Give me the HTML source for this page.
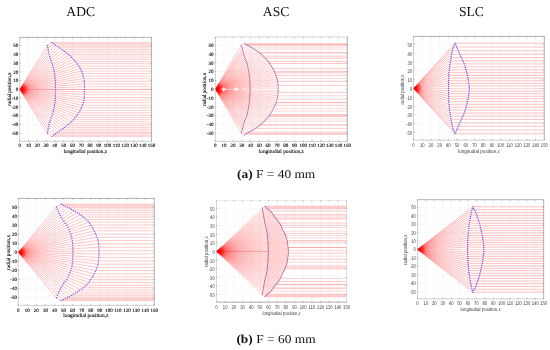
<!DOCTYPE html>
<html><head><meta charset="utf-8"><title>Figure</title><style>html,body{margin:0;padding:0;background:#fff;}svg{display:block;} text{text-rendering:geometricPrecision;}</style></head><body>
<svg width="550" height="350" viewBox="0 0 550 350">
<rect width="550" height="350" fill="#fff"/>
<text x="80.7" y="16" text-anchor="middle" font-family='"Liberation Serif", serif' font-size="13.6" fill="#111">ADC</text>
<text x="276.1" y="16" text-anchor="middle" font-family='"Liberation Serif", serif' font-size="13.6" fill="#111">ASC</text>
<text x="471.4" y="16" text-anchor="middle" font-family='"Liberation Serif", serif' font-size="13.6" fill="#111">SLC</text>
<path d="M28.49 37.4V141.3M37.28 37.4V141.3M46.07 37.4V141.3M54.86 37.4V141.3M63.65 37.4V141.3M72.44 37.4V141.3M81.23 37.4V141.3M90.02 37.4V141.3M98.81 37.4V141.3M107.6 37.4V141.3M116.39 37.4V141.3M125.18 37.4V141.3M133.97 37.4V141.3M142.76 37.4V141.3M19.7 133.3H151.55M19.7 124.52H151.55M19.7 115.74H151.55M19.7 106.96H151.55M19.7 98.18H151.55M19.7 89.4H151.55M19.7 80.62H151.55M19.7 71.84H151.55M19.7 63.06H151.55M19.7 54.28H151.55M19.7 45.5H151.55" stroke="#f3f3f3" stroke-width="0.5" fill="none"/>
<path d="M19.7 89.4L47.48 133.21M19.7 89.4L47.99 129.81M19.7 89.4L48.57 126.86M19.7 89.4L49.2 124.26M19.7 89.4L49.87 121.91M19.7 89.4L50.54 119.73M19.7 89.4L51.23 117.69M19.7 89.4L51.87 115.71M19.7 89.4L52.47 113.79M19.7 89.4L53.02 111.91M19.7 89.4L53.5 110.05M19.7 89.4L53.94 108.22M19.7 89.4L54.3 106.41M19.7 89.4L54.61 104.62M19.7 89.4L54.86 102.86M19.7 89.4L55.06 101.11M19.7 89.4L55.21 99.39M19.7 89.4L55.33 97.69M19.7 89.4L55.39 96M19.7 89.4L55.43 94.33M19.7 89.4L55.45 92.68M19.7 89.4L55.47 91.04M19.7 89.4L55.48 89.4M19.7 89.4L55.47 87.76M19.7 89.4L55.45 86.12M19.7 89.4L55.43 84.47M19.7 89.4L55.39 82.8M19.7 89.4L55.33 81.11M19.7 89.4L55.21 79.41M19.7 89.4L55.06 77.69M19.7 89.4L54.86 75.94M19.7 89.4L54.61 74.18M19.7 89.4L54.3 72.39M19.7 89.4L53.94 70.58M19.7 89.4L53.5 68.75M19.7 89.4L53.02 66.89M19.7 89.4L52.47 65.01M19.7 89.4L51.87 63.09M19.7 89.4L51.23 61.11M19.7 89.4L50.54 59.07M19.7 89.4L49.87 56.89M19.7 89.4L49.2 54.54M19.7 89.4L48.57 51.94M19.7 89.4L47.99 48.99M19.7 89.4L47.48 45.59" stroke="#ff0000" stroke-width="0.45" stroke-opacity="0.5" fill="none"/>
<path d="M47.48 133.21L51.96 136.37M47.99 129.81L53.45 135.21M48.57 126.86L55.19 133.92M49.2 124.26L57.17 132.51M49.87 121.91L59.49 130.99M50.54 119.73L61.89 129.35M51.23 117.69L64.22 127.6M51.87 115.71L66.6 125.74M52.47 113.79L69.1 123.79M53.02 111.91L71.38 121.74M53.5 110.05L73.42 119.61M53.94 108.22L75.32 117.39M54.3 106.41L77.12 115.09M54.61 104.62L78.77 112.73M54.86 102.86L80.24 110.3M55.06 101.11L81.5 107.81M55.21 99.39L82.51 105.28M55.33 97.69L83.29 102.7M55.39 96L83.91 100.08M55.43 94.33L84.24 97.44M55.45 92.68L84.37 94.77M55.47 91.04L84.45 92.09M55.48 89.4L84.48 89.4M55.47 87.76L84.45 86.71M55.45 86.12L84.37 84.03M55.43 84.47L84.24 81.36M55.39 82.8L83.91 78.72M55.33 81.11L83.29 76.1M55.21 79.41L82.51 73.52M55.06 77.69L81.5 70.99M54.86 75.94L80.24 68.5M54.61 74.18L78.77 66.07M54.3 72.39L77.12 63.71M53.94 70.58L75.32 61.41M53.5 68.75L73.42 59.19M53.02 66.89L71.38 57.06M52.47 65.01L69.1 55.01M51.87 63.09L66.6 53.06M51.23 61.11L64.22 51.2M50.54 59.07L61.89 49.45M49.87 56.89L59.49 47.81M49.2 54.54L57.17 46.29M48.57 51.94L55.19 44.88M47.99 48.99L53.45 43.59M47.48 45.59L51.96 42.43" stroke="#ff0000" stroke-width="0.45" stroke-opacity="0.5" fill="none"/>
<path d="M51.96 136.37L151.55 136.37M53.45 135.21L151.55 135.21M55.19 133.92L151.55 133.92M57.17 132.51L151.55 132.51M59.49 130.99L151.55 130.99M61.89 129.35L151.55 129.35M64.22 127.6L151.55 127.6M66.6 125.74L151.55 125.74M69.1 123.79L151.55 123.79M71.38 121.74L151.55 121.74M73.42 119.61L151.55 119.61M75.32 117.39L151.55 117.39M77.12 115.09L151.55 115.09M78.77 112.73L151.55 112.73M80.24 110.3L151.55 110.3M81.5 107.81L151.55 107.81M82.51 105.28L151.55 105.28M83.29 102.7L151.55 102.7M83.91 100.08L151.55 100.08M84.24 97.44L151.55 97.44M84.37 94.77L151.55 94.77M84.45 92.09L151.55 92.09M84.48 89.4L151.55 89.4M84.45 86.71L151.55 86.71M84.37 84.03L151.55 84.03M84.24 81.36L151.55 81.36M83.91 78.72L151.55 78.72M83.29 76.1L151.55 76.1M82.51 73.52L151.55 73.52M81.5 70.99L151.55 70.99M80.24 68.5L151.55 68.5M78.77 66.07L151.55 66.07M77.12 63.71L151.55 63.71M75.32 61.41L151.55 61.41M73.42 59.19L151.55 59.19M71.38 57.06L151.55 57.06M69.1 55.01L151.55 55.01M66.6 53.06L151.55 53.06M64.22 51.2L151.55 51.2M61.89 49.45L151.55 49.45M59.49 47.81L151.55 47.81M57.17 46.29L151.55 46.29M55.19 44.88L151.55 44.88M53.45 43.59L151.55 43.59M51.96 42.43L151.55 42.43" stroke="#ff0000" stroke-width="0.45" stroke-opacity="0.42" fill="none"/>
<defs><radialGradient id="g19_89" gradientUnits="userSpaceOnUse" cx="19.7" cy="89.4" r="8.5"><stop offset="0" stop-color="#ff0000" stop-opacity="1.0"/><stop offset="0.45" stop-color="#ff0000" stop-opacity="0.75"/><stop offset="1" stop-color="#ff0000" stop-opacity="0"/></radialGradient></defs>
<path d="M19.7 89.4L24.25 96.57L24.86 96.15L25.43 95.67L25.96 95.15L26.43 94.58L26.86 93.97L27.23 93.33L27.55 92.66L27.8 91.96L28 91.24L28.13 90.51L28.19 89.77L28.19 89.03L28.13 88.29L28 87.56L27.8 86.84L27.55 86.14L27.23 85.47L26.86 84.83L26.43 84.22L25.96 83.65L25.43 83.13L24.86 82.65L24.25 82.23Z" fill="url(#g19_89)"/>
<path d="M19.7 89.4H151.55" stroke="#ff0000" stroke-width="0.45" stroke-opacity="0.4" fill="none"/>
<path d="M47.48 133.21h0M47.79 130.98h0M48.18 128.78h0M48.63 126.59h0M49.16 124.4h0M49.77 122.25h0M50.42 120.11h0M51.14 117.96h0M51.83 115.85h0M52.5 113.71h0M53.11 111.56h0M53.66 109.41h0M54.15 107.22h0M54.55 104.98h0M54.87 102.79h0M55.11 100.56h0M55.29 98.32h0M55.39 96.08h0M55.44 93.85h0M55.46 91.61h0M55.48 89.38h0M55.46 87.14h0M55.44 84.91h0M55.39 82.67h0M55.29 80.44h0M55.11 78.2h0M54.87 75.96h0M54.54 73.77h0M54.14 71.54h0M53.65 69.35h0M53.1 67.2h0M52.48 65.05h0M51.82 62.9h0M51.13 60.8h0M50.41 58.65h0M49.76 56.5h0M49.15 54.35h0M48.62 52.16h0M48.17 49.97h0M47.79 47.78h0M47.48 45.59h0M51.96 136.37h0M53.78 134.96h0M55.57 133.65h0M57.37 132.38h0M59.3 131.11h0M61.14 129.89h0M62.94 128.57h0M64.72 127.21h0M66.46 125.85h0M68.22 124.48h0M70.01 123.03h0M71.6 121.52h0M73.17 119.88h0M74.62 118.23h0M76.04 116.49h0M77.41 114.71h0M78.68 112.87h0M79.87 110.95h0M80.96 108.97h0M81.87 106.95h0M82.66 104.84h0M83.28 102.72h0M83.82 100.51h0M84.18 98.31h0M84.31 96.1h0M84.4 93.84h0M84.46 91.63h0M84.48 89.38h0M84.46 87.12h0M84.4 84.91h0M84.31 82.66h0M84.18 80.45h0M83.81 78.24h0M83.27 76.03h0M82.64 73.91h0M81.85 71.8h0M80.94 69.78h0M79.84 67.81h0M78.65 65.88h0M77.37 64.05h0M76 62.26h0M74.58 60.52h0M73.13 58.88h0M71.55 57.23h0M69.95 55.73h0M68.16 54.27h0M66.4 52.91h0M64.66 51.54h0M62.88 50.18h0M61.07 48.87h0M59.23 47.64h0M57.3 46.37h0M55.5 45.11h0M53.72 43.79h0M51.96 42.43h0" stroke="#6646e4" stroke-width="1.45" stroke-linecap="round" stroke-opacity="0.88" fill="none"/>
<path d="M19.7 37.4V141.3" fill="none" stroke="#c4c4c4" stroke-width="0.8"/>
<path d="M19.7 141.3H151.55" fill="none" stroke="#c4c4c4" stroke-width="0.8"/>
<path d="M19.7 37.4H151.55" fill="none" stroke="#a0a0a0" stroke-width="0.8"/>
<path d="M151.55 37.4V141.3" fill="none" stroke="#a0a0a0" stroke-width="0.8"/>
<path d="M19.7 141.3v-1.0M19.7 37.4v1.0M28.49 141.3v-1.0M28.49 37.4v1.0M37.28 141.3v-1.0M37.28 37.4v1.0M46.07 141.3v-1.0M46.07 37.4v1.0M54.86 141.3v-1.0M54.86 37.4v1.0M63.65 141.3v-1.0M63.65 37.4v1.0M72.44 141.3v-1.0M72.44 37.4v1.0M81.23 141.3v-1.0M81.23 37.4v1.0M90.02 141.3v-1.0M90.02 37.4v1.0M98.81 141.3v-1.0M98.81 37.4v1.0M107.6 141.3v-1.0M107.6 37.4v1.0M116.39 141.3v-1.0M116.39 37.4v1.0M125.18 141.3v-1.0M125.18 37.4v1.0M133.97 141.3v-1.0M133.97 37.4v1.0M142.76 141.3v-1.0M142.76 37.4v1.0M151.55 141.3v-1.0M151.55 37.4v1.0M19.7 133.3h1.0M151.55 133.3h-1.0M19.7 124.52h1.0M151.55 124.52h-1.0M19.7 115.74h1.0M151.55 115.74h-1.0M19.7 106.96h1.0M151.55 106.96h-1.0M19.7 98.18h1.0M151.55 98.18h-1.0M19.7 89.4h1.0M151.55 89.4h-1.0M19.7 80.62h1.0M151.55 80.62h-1.0M19.7 71.84h1.0M151.55 71.84h-1.0M19.7 63.06h1.0M151.55 63.06h-1.0M19.7 54.28h1.0M151.55 54.28h-1.0M19.7 45.5h1.0M151.55 45.5h-1.0" stroke="#666" stroke-width="0.5" fill="none"/>
<g font-family='"Liberation Serif", serif' font-size="5.0" fill="#000" stroke="#000" stroke-width="0.1"><text x="19.7" y="147.3" text-anchor="middle">0</text><text x="28.49" y="147.3" text-anchor="middle">10</text><text x="37.28" y="147.3" text-anchor="middle">20</text><text x="46.07" y="147.3" text-anchor="middle">30</text><text x="54.86" y="147.3" text-anchor="middle">40</text><text x="63.65" y="147.3" text-anchor="middle">50</text><text x="72.44" y="147.3" text-anchor="middle">60</text><text x="81.23" y="147.3" text-anchor="middle">70</text><text x="90.02" y="147.3" text-anchor="middle">80</text><text x="98.81" y="147.3" text-anchor="middle">90</text><text x="107.6" y="147.3" text-anchor="middle">100</text><text x="116.39" y="147.3" text-anchor="middle">110</text><text x="125.18" y="147.3" text-anchor="middle">120</text><text x="133.97" y="147.3" text-anchor="middle">130</text><text x="142.76" y="147.3" text-anchor="middle">140</text><text x="151.55" y="147.3" text-anchor="middle">150</text><text x="18.3" y="135.05" text-anchor="end">-50</text><text x="18.3" y="126.27" text-anchor="end">-40</text><text x="18.3" y="117.49" text-anchor="end">-30</text><text x="18.3" y="108.71" text-anchor="end">-20</text><text x="18.3" y="99.93" text-anchor="end">-10</text><text x="18.3" y="91.15" text-anchor="end">0</text><text x="18.3" y="82.37" text-anchor="end">10</text><text x="18.3" y="73.59" text-anchor="end">20</text><text x="18.3" y="64.81" text-anchor="end">30</text><text x="18.3" y="56.03" text-anchor="end">40</text><text x="18.3" y="47.25" text-anchor="end">50</text></g>
<text x="85.3" y="152.6" text-anchor="middle" font-family='"Liberation Serif", serif' font-size="5.2" fill="#000" stroke="#000" stroke-width="0.1" textLength="43.3" lengthAdjust="spacingAndGlyphs">longitudial position,z</text>
<text transform="translate(10.6 89.1) rotate(-90)" text-anchor="middle" font-family='"Liberation Serif", serif' font-size="5.2" fill="#000" stroke="#000" stroke-width="0.1" textLength="33.4" lengthAdjust="spacingAndGlyphs">radial position,x</text>
<path d="M224.1 36.9V141.4M232.9 36.9V141.4M241.7 36.9V141.4M250.5 36.9V141.4M259.3 36.9V141.4M268.1 36.9V141.4M276.9 36.9V141.4M285.7 36.9V141.4M294.5 36.9V141.4M303.3 36.9V141.4M312.1 36.9V141.4M320.9 36.9V141.4M329.7 36.9V141.4M338.5 36.9V141.4M215.3 133.2H347.3M215.3 124.4H347.3M215.3 115.6H347.3M215.3 106.8H347.3M215.3 98H347.3M215.3 89.2H347.3M215.3 80.4H347.3M215.3 71.6H347.3M215.3 62.8H347.3M215.3 54H347.3M215.3 45.2H347.3" stroke="#f3f3f3" stroke-width="0.5" fill="none"/>
<path d="M215.3 89.2L241.26 133.11M215.3 89.2L242.2 130.04M215.3 89.2L242.74 128.05M215.3 89.2L243.21 126.12M215.3 89.2L243.68 124.31M215.3 89.2L244.15 122.62M215.3 89.2L244.63 121.03M215.3 89.2L245.15 119.56M215.3 89.2L245.76 118.23M215.3 89.2L246.38 116.96M215.3 89.2L246.88 115.62M215.3 89.2L247.25 114.22M215.3 89.2L247.57 112.82M215.3 89.2L247.84 111.44M215.3 89.2L248.1 110.09M215.3 89.2L248.33 108.76M215.3 89.2L248.55 107.46M215.3 89.2L248.75 106.19M215.3 89.2L248.93 104.93M215.3 89.2L249.1 103.69M215.3 89.2L249.27 102.48M215.3 89.2L249.43 101.28M215.3 89.2L249.57 100.09M215.3 89.2L249.67 98.91M215.3 89.2L249.75 97.74M215.3 89.2L249.8 96.58M215.3 89.2L249.85 95.42M215.3 89.2L249.89 94.28M215.3 89.2L249.94 93.15M215.3 89.2L249.99 92.02M215.3 89.2L250.07 90.89M215.3 89.2L250.14 89.76M215.3 89.2L250.14 88.64M215.3 89.2L250.07 87.51M215.3 89.2L249.99 86.38M215.3 89.2L249.94 85.25M215.3 89.2L249.89 84.12M215.3 89.2L249.85 82.98M215.3 89.2L249.8 81.82M215.3 89.2L249.75 80.66M215.3 89.2L249.67 79.49M215.3 89.2L249.57 78.31M215.3 89.2L249.43 77.12M215.3 89.2L249.27 75.92M215.3 89.2L249.1 74.71M215.3 89.2L248.93 73.47M215.3 89.2L248.75 72.21M215.3 89.2L248.55 70.94M215.3 89.2L248.33 69.64M215.3 89.2L248.1 68.31M215.3 89.2L247.84 66.96M215.3 89.2L247.57 65.58M215.3 89.2L247.25 64.18M215.3 89.2L246.88 62.78M215.3 89.2L246.38 61.44M215.3 89.2L245.76 60.17M215.3 89.2L245.15 58.84M215.3 89.2L244.63 57.37M215.3 89.2L244.15 55.78M215.3 89.2L243.68 54.09M215.3 89.2L243.21 52.28M215.3 89.2L242.74 50.35M215.3 89.2L242.2 48.36M215.3 89.2L241.26 45.29" stroke="#ff0000" stroke-width="0.45" stroke-opacity="0.5" fill="none"/>
<path d="M241.26 133.11L244.34 135.14M242.2 130.04L245.95 133.84M242.74 128.05L247.33 132.96M243.21 126.12L249.2 132.04M243.68 124.31L251.17 131.11M244.15 122.62L252.85 130.16M244.63 121.03L254.43 129.19M245.15 119.56L255.91 128.21M245.76 118.23L257.23 127.27M246.38 116.96L258.51 126.29M246.88 115.62L259.89 125.19M247.25 114.22L261.37 123.96M247.57 112.82L262.83 122.64M247.84 111.44L264.23 121.26M248.1 110.09L265.59 119.82M248.33 108.76L266.93 118.33M248.55 107.46L268.25 116.8M248.75 106.19L269.46 115.22M248.93 104.93L270.59 113.6M249.1 103.69L271.64 111.94M249.27 102.48L272.61 110.25M249.43 101.28L273.5 108.53M249.57 100.09L274.33 106.78M249.67 98.91L275.12 105M249.75 97.74L275.85 103.18M249.8 96.58L276.49 101.35M249.85 95.42L277.08 99.5M249.89 94.28L277.58 97.64M249.94 93.15L277.84 95.78M249.99 92.02L278.01 93.91M250.07 90.89L278.14 92.03M250.14 89.76L278.21 90.15M250.14 88.64L278.21 88.25M250.07 87.51L278.14 86.37M249.99 86.38L278.01 84.49M249.94 85.25L277.84 82.62M249.89 84.12L277.58 80.76M249.85 82.98L277.08 78.9M249.8 81.82L276.49 77.05M249.75 80.66L275.85 75.22M249.67 79.49L275.12 73.4M249.57 78.31L274.33 71.62M249.43 77.12L273.5 69.87M249.27 75.92L272.61 68.15M249.1 74.71L271.64 66.46M248.93 73.47L270.59 64.8M248.75 72.21L269.46 63.18M248.55 70.94L268.25 61.6M248.33 69.64L266.93 60.07M248.1 68.31L265.59 58.58M247.84 66.96L264.23 57.14M247.57 65.58L262.83 55.76M247.25 64.18L261.37 54.44M246.88 62.78L259.89 53.21M246.38 61.44L258.51 52.11M245.76 60.17L257.23 51.13M245.15 58.84L255.91 50.19M244.63 57.37L254.43 49.21M244.15 55.78L252.85 48.24M243.68 54.09L251.17 47.29M243.21 52.28L249.2 46.36M242.74 50.35L247.33 45.44M242.2 48.36L245.95 44.56M241.26 45.29L244.34 43.26" stroke="#ff0000" stroke-width="0.45" stroke-opacity="0.42" fill="none"/>
<path d="M244.93 43.79H347.3M245.73 44.41H347.3M247.07 45.29H347.3M268.15 61.48H347.3M269.69 63.5H347.3M272.76 68.43H347.3M275.91 75.38H347.3M277.71 81.46H347.3M278.08 85.42H347.3M278.13 92.28H347.3M274.99 105.3H347.3M269.94 114.54H347.3M269.18 115.6H347.3M268.5 116.48H347.3M255.69 128.36H347.3M246.93 133.2H347.3M245.26 134.34H347.3" stroke="#ff0000" stroke-width="0.6" stroke-opacity="0.36" fill="none"/>
<path d="M250.87 47.14H347.3M254.22 49.07H347.3M263.11 56.02H347.3M264.26 57.17H347.3M265.42 58.4H347.3M274.12 71.16H347.3M274.56 72.13H347.3M274.95 73.01H347.3M276.91 78.38H347.3M277.85 95.71H347.3M277.19 99.14H347.3M273.36 108.82H347.3M272.12 111.11H347.3M266.39 118.94H347.3M264.26 121.23H347.3M249.36 131.97H347.3" stroke="#ff0000" stroke-width="0.6" stroke-opacity="0.26" fill="none"/>
<path d="M259.23 52.68H347.3M276.04 102.66H347.3M260.11 125.02H347.3" stroke="#ff0000" stroke-width="0.6" stroke-opacity="0.55" fill="none"/>
<path d="M220.2 89.2Q222.5 88.56 223.4 86.9Q224.29 88.56 226.6 89.2Q224.29 89.84 223.4 91.5Q222.5 89.84 220.2 89.2Z" fill="#fff" fill-opacity="0.85"/>
<path d="M232.67 89.2Q235.12 88.56 236.07 86.9Q237.02 88.56 239.47 89.2Q237.02 89.84 236.07 91.5Q235.12 89.84 232.67 89.2Z" fill="#fff" fill-opacity="0.8"/>
<path d="M242.38 89.2Q244.11 88.75 244.78 87.6Q245.45 88.75 247.18 89.2Q245.45 89.65 244.78 90.8Q244.11 89.65 242.38 89.2Z" fill="#fff" fill-opacity="0.45"/>
<path d="M219.7 89.2H249.62" stroke="#fff" stroke-width="1.0" stroke-opacity="0.45" fill="none"/>
<path d="M250.5 89.2H277.78" stroke="#fff" stroke-width="1.3" stroke-opacity="0.7" fill="none"/>
<defs><radialGradient id="g215_89" gradientUnits="userSpaceOnUse" cx="215.3" cy="89.2" r="8.5"><stop offset="0" stop-color="#ff0000" stop-opacity="1.0"/><stop offset="0.45" stop-color="#ff0000" stop-opacity="0.75"/><stop offset="1" stop-color="#ff0000" stop-opacity="0"/></radialGradient></defs>
<path d="M215.3 89.2L219.63 96.52L220.27 96.1L220.87 95.62L221.42 95.1L221.93 94.52L222.38 93.9L222.78 93.24L223.11 92.55L223.38 91.84L223.58 91.1L223.72 90.35L223.79 89.58L223.79 88.82L223.72 88.05L223.58 87.3L223.38 86.56L223.11 85.85L222.78 85.16L222.38 84.5L221.93 83.88L221.42 83.3L220.87 82.78L220.27 82.3L219.63 81.88Z" fill="url(#g215_89)"/>
<path d="M241.26 133.11h0M241.98 130.78h0M242.63 128.5h0M243.21 126.13h0M243.82 123.8h0M244.48 121.51h0M245.28 119.23h0M246.33 117.08h0M247.11 114.79h0M247.64 112.46h0M248.1 110.09h0M248.51 107.72h0M248.88 105.35h0M249.2 102.97h0M249.51 100.6h0M249.72 98.18h0M249.84 95.77h0M249.93 93.4h0M250.07 90.98h0M250.13 88.56h0M249.98 86.19h0M249.88 83.77h0M249.78 81.36h0M249.63 78.99h0M249.36 76.57h0M249.03 74.2h0M248.69 71.82h0M248.3 69.45h0M247.86 67.08h0M247.38 64.71h0M246.75 62.38h0M245.79 60.23h0M244.84 57.98h0M244.13 55.7h0M243.49 53.37h0M242.91 51.04h0M242.3 48.71h0M241.62 46.43h0M244.34 135.14h0M246.27 133.62h0M248.37 132.42h0M250.57 131.41h0M252.68 130.26h0M254.76 128.98h0M256.71 127.64h0M258.66 126.17h0M260.54 124.66h0M262.34 123.09h0M264.05 121.44h0M265.75 119.65h0M267.35 117.86h0M268.86 116.02h0M270.29 114.04h0M271.59 112.02h0M272.79 109.9h0M273.86 107.79h0M274.86 105.58h0M275.79 103.33h0M276.57 101.08h0M277.29 98.78h0M277.78 96.39h0M278 94h0M278.16 91.57h0M278.22 89.18h0M278.16 86.79h0M278 84.35h0M277.78 81.96h0M277.28 79.57h0M276.56 77.27h0M275.77 75.02h0M274.84 72.77h0M273.84 70.56h0M272.77 68.45h0M271.56 66.34h0M270.26 64.31h0M268.83 62.34h0M267.31 60.5h0M265.71 58.71h0M264.01 56.91h0M262.29 55.26h0M260.49 53.7h0M258.6 52.18h0M256.65 50.71h0M254.69 49.38h0M252.6 48.09h0M250.47 46.94h0M248.28 45.93h0M246.2 44.73h0M244.34 43.26h0" stroke="#c01848" stroke-width="0.95" stroke-linecap="round" stroke-opacity="0.8" fill="none"/>
<path d="M241.64 131.93h0M242.32 129.64h0M242.92 127.31h0M243.5 124.98h0M244.14 122.66h0M244.85 120.37h0M245.81 118.13h0M246.77 115.98h0M247.39 113.65h0M247.87 111.28h0M248.31 108.9h0M248.7 106.53h0M249.04 104.16h0M249.36 101.79h0M249.64 99.37h0M249.79 97h0M249.88 94.58h0M249.98 92.17h0M250.14 89.79h0M250.06 87.38h0M249.92 84.96h0M249.84 82.59h0M249.72 80.17h0M249.51 77.76h0M249.2 75.38h0M248.87 73.01h0M248.5 70.64h0M248.09 68.27h0M247.63 65.89h0M247.1 63.56h0M246.31 61.28h0M245.27 59.13h0M244.47 56.84h0M243.81 54.56h0M243.2 52.23h0M242.61 49.86h0M241.97 47.57h0M241.26 45.29h0M245.3 134.31h0M247.3 132.98h0M249.47 131.92h0M251.63 130.86h0M253.75 129.62h0M255.73 128.33h0M257.71 126.91h0M259.59 125.44h0M261.46 123.88h0M263.22 122.27h0M264.89 120.57h0M266.54 118.77h0M268.13 116.94h0M269.58 115.05h0M270.96 113.03h0M272.21 110.96h0M273.34 108.85h0M274.38 106.69h0M275.33 104.48h0M276.2 102.23h0M276.94 99.93h0M277.59 97.59h0M277.9 95.2h0M278.09 92.81h0M278.21 90.37h0M278.2 87.98h0M278.09 85.55h0M277.9 83.16h0M277.58 80.77h0M276.93 78.42h0M276.18 76.12h0M275.31 73.87h0M274.36 71.67h0M273.32 69.51h0M272.18 67.39h0M270.93 65.32h0M269.54 63.3h0M268.1 61.42h0M266.5 59.58h0M264.85 57.79h0M263.17 56.09h0M261.41 54.48h0M259.53 52.92h0M257.65 51.44h0M255.66 50.02h0M253.67 48.73h0M251.55 47.49h0M249.37 46.44h0M247.22 45.38h0M245.24 44.05h0" stroke="#4030c8" stroke-width="0.95" stroke-linecap="round" stroke-opacity="0.8" fill="none"/>
<path d="M215.3 36.9V141.4" fill="none" stroke="#c4c4c4" stroke-width="0.8"/>
<path d="M215.3 141.4H347.3" fill="none" stroke="#c4c4c4" stroke-width="0.8"/>
<path d="M215.3 36.9H347.3" fill="none" stroke="#cfcfcf" stroke-width="0.8"/>
<path d="M347.3 36.9V141.4" fill="none" stroke="#a0a0a0" stroke-width="0.8"/>
<path d="M215.3 141.4v-1.0M215.3 36.9v1.0M224.1 141.4v-1.0M224.1 36.9v1.0M232.9 141.4v-1.0M232.9 36.9v1.0M241.7 141.4v-1.0M241.7 36.9v1.0M250.5 141.4v-1.0M250.5 36.9v1.0M259.3 141.4v-1.0M259.3 36.9v1.0M268.1 141.4v-1.0M268.1 36.9v1.0M276.9 141.4v-1.0M276.9 36.9v1.0M285.7 141.4v-1.0M285.7 36.9v1.0M294.5 141.4v-1.0M294.5 36.9v1.0M303.3 141.4v-1.0M303.3 36.9v1.0M312.1 141.4v-1.0M312.1 36.9v1.0M320.9 141.4v-1.0M320.9 36.9v1.0M329.7 141.4v-1.0M329.7 36.9v1.0M338.5 141.4v-1.0M338.5 36.9v1.0M347.3 141.4v-1.0M347.3 36.9v1.0M215.3 133.2h1.0M347.3 133.2h-1.0M215.3 124.4h1.0M347.3 124.4h-1.0M215.3 115.6h1.0M347.3 115.6h-1.0M215.3 106.8h1.0M347.3 106.8h-1.0M215.3 98h1.0M347.3 98h-1.0M215.3 89.2h1.0M347.3 89.2h-1.0M215.3 80.4h1.0M347.3 80.4h-1.0M215.3 71.6h1.0M347.3 71.6h-1.0M215.3 62.8h1.0M347.3 62.8h-1.0M215.3 54h1.0M347.3 54h-1.0M215.3 45.2h1.0M347.3 45.2h-1.0" stroke="#666" stroke-width="0.5" fill="none"/>
<g font-family='"Liberation Serif", serif' font-size="5.0" fill="#000" stroke="#000" stroke-width="0.1"><text x="215.3" y="147.3" text-anchor="middle">0</text><text x="224.1" y="147.3" text-anchor="middle">10</text><text x="232.9" y="147.3" text-anchor="middle">20</text><text x="241.7" y="147.3" text-anchor="middle">30</text><text x="250.5" y="147.3" text-anchor="middle">40</text><text x="259.3" y="147.3" text-anchor="middle">50</text><text x="268.1" y="147.3" text-anchor="middle">60</text><text x="276.9" y="147.3" text-anchor="middle">70</text><text x="285.7" y="147.3" text-anchor="middle">80</text><text x="294.5" y="147.3" text-anchor="middle">90</text><text x="303.3" y="147.3" text-anchor="middle">100</text><text x="312.1" y="147.3" text-anchor="middle">110</text><text x="320.9" y="147.3" text-anchor="middle">120</text><text x="329.7" y="147.3" text-anchor="middle">130</text><text x="338.5" y="147.3" text-anchor="middle">140</text><text x="347.3" y="147.3" text-anchor="middle">150</text><text x="213.5" y="134.95" text-anchor="end">-50</text><text x="213.5" y="126.15" text-anchor="end">-40</text><text x="213.5" y="117.35" text-anchor="end">-30</text><text x="213.5" y="108.55" text-anchor="end">-20</text><text x="213.5" y="99.75" text-anchor="end">-10</text><text x="213.5" y="90.95" text-anchor="end">0</text><text x="213.5" y="82.15" text-anchor="end">10</text><text x="213.5" y="73.35" text-anchor="end">20</text><text x="213.5" y="64.55" text-anchor="end">30</text><text x="213.5" y="55.75" text-anchor="end">40</text><text x="213.5" y="46.95" text-anchor="end">50</text></g>
<text x="281.4" y="152.6" text-anchor="middle" font-family='"Liberation Serif", serif' font-size="5.2" fill="#000" stroke="#000" stroke-width="0.1" textLength="45.1" lengthAdjust="spacingAndGlyphs">longitudial position,z</text>
<text transform="translate(205.9 89.5) rotate(-90)" text-anchor="middle" font-family='"Liberation Serif", serif' font-size="5.2" fill="#000" stroke="#000" stroke-width="0.1" textLength="33.4" lengthAdjust="spacingAndGlyphs">radial position,x</text>
<path d="M422.22 36.4V140.2M430.94 36.4V140.2M439.66 36.4V140.2M448.38 36.4V140.2M457.1 36.4V140.2M465.82 36.4V140.2M474.54 36.4V140.2M483.26 36.4V140.2M491.98 36.4V140.2M500.7 36.4V140.2M509.42 36.4V140.2M518.14 36.4V140.2M526.86 36.4V140.2M535.58 36.4V140.2M413.5 132.55H544.3M413.5 123.74H544.3M413.5 114.93H544.3M413.5 106.12H544.3M413.5 97.31H544.3M413.5 88.5H544.3M413.5 79.69H544.3M413.5 70.88H544.3M413.5 62.07H544.3M413.5 53.26H544.3M413.5 44.45H544.3" stroke="#f3f3f3" stroke-width="0.5" fill="none"/>
<path d="M413.5 88.5L455.09 133.78M413.5 88.5L453.44 129.95M413.5 88.5L452.39 126.28M413.5 88.5L451.63 122.77M413.5 88.5L451.04 119.41M413.5 88.5L450.53 116.17M413.5 88.5L450.06 113.06M413.5 88.5L449.62 110.06M413.5 88.5L449.26 107.15M413.5 88.5L449 104.33M413.5 88.5L448.86 101.58M413.5 88.5L448.76 98.89M413.5 88.5L448.68 96.25M413.5 88.5L448.61 93.65M413.5 88.5L448.57 91.07M413.5 88.5L448.57 85.93M413.5 88.5L448.61 83.35M413.5 88.5L448.68 80.75M413.5 88.5L448.76 78.11M413.5 88.5L448.86 75.42M413.5 88.5L449 72.67M413.5 88.5L449.26 69.85M413.5 88.5L449.62 66.94M413.5 88.5L450.06 63.94M413.5 88.5L450.53 60.83M413.5 88.5L451.04 57.59M413.5 88.5L451.63 54.23M413.5 88.5L452.39 50.72M413.5 88.5L453.44 47.05M413.5 88.5L455.09 43.22" stroke="#ff0000" stroke-width="0.45" stroke-opacity="0.55" fill="none"/>
<path d="M455.09 133.78L455.09 133.78M453.44 129.95L456.75 129.95M452.39 126.28L458.33 126.28M451.63 122.77L459.88 122.77M451.04 119.41L461.45 119.41M450.53 116.17L462.93 116.17M450.06 113.06L464.2 113.06M449.62 110.06L465.2 110.06M449.26 107.15L466.06 107.15M449 104.33L466.82 104.33M448.86 101.58L467.47 101.58M448.76 98.89L468.01 98.89M448.68 96.25L468.44 96.25M448.61 93.65L468.86 93.65M448.57 91.07L469.18 91.07M448.57 85.93L469.18 85.93M448.61 83.35L468.86 83.35M448.68 80.75L468.44 80.75M448.76 78.11L468.01 78.11M448.86 75.42L467.47 75.42M449 72.67L466.82 72.67M449.26 69.85L466.06 69.85M449.62 66.94L465.2 66.94M450.06 63.94L464.2 63.94M450.53 60.83L462.93 60.83M451.04 57.59L461.45 57.59M451.63 54.23L459.88 54.23M452.39 50.72L458.33 50.72M453.44 47.05L456.75 47.05M455.09 43.22L455.09 43.22" stroke="#ff0000" stroke-width="0.45" stroke-opacity="0.55" fill="none"/>
<path d="M455.09 133.78L544.3 133.78M456.75 129.95L544.3 129.95M458.33 126.28L544.3 126.28M459.88 122.77L544.3 122.77M461.45 119.41L544.3 119.41M462.93 116.17L544.3 116.17M464.2 113.06L544.3 113.06M465.2 110.06L544.3 110.06M466.06 107.15L544.3 107.15M466.82 104.33L544.3 104.33M467.47 101.58L544.3 101.58M468.01 98.89L544.3 98.89M468.44 96.25L544.3 96.25M468.86 93.65L544.3 93.65M469.18 91.07L544.3 91.07M469.18 85.93L544.3 85.93M468.86 83.35L544.3 83.35M468.44 80.75L544.3 80.75M468.01 78.11L544.3 78.11M467.47 75.42L544.3 75.42M466.82 72.67L544.3 72.67M466.06 69.85L544.3 69.85M465.2 66.94L544.3 66.94M464.2 63.94L544.3 63.94M462.93 60.83L544.3 60.83M461.45 57.59L544.3 57.59M459.88 54.23L544.3 54.23M458.33 50.72L544.3 50.72M456.75 47.05L544.3 47.05M455.09 43.22L544.3 43.22" stroke="#ff0000" stroke-width="0.45" stroke-opacity="0.55" fill="none"/>
<defs><radialGradient id="g413_88" gradientUnits="userSpaceOnUse" cx="413.5" cy="88.5" r="8.5"><stop offset="0" stop-color="#ff0000" stop-opacity="1.0"/><stop offset="0.45" stop-color="#ff0000" stop-opacity="0.75"/><stop offset="1" stop-color="#ff0000" stop-opacity="0"/></radialGradient></defs>
<path d="M413.5 88.5L419.28 94.79L419.71 94.36L420.11 93.9L420.48 93.41L420.81 92.89L421.1 92.35L421.35 91.79L421.56 91.22L421.73 90.63L421.86 90.03L421.95 89.42L421.99 88.81L421.99 88.19L421.95 87.58L421.86 86.97L421.73 86.37L421.56 85.78L421.35 85.21L421.1 84.65L420.81 84.11L420.48 83.59L420.11 83.1L419.71 82.64L419.28 82.21Z" fill="url(#g413_88)"/>
<path d="M413.5 88.5H544.3" stroke="#ff0000" stroke-width="0.45" stroke-opacity="0.35" fill="none"/>
<path d="M455.09 133.78h0M454.25 131.93h0M453.49 130.07h0M452.87 128.17h0M452.39 126.26h0M451.94 124.27h0M451.55 122.32h0M451.2 120.37h0M450.87 118.38h0M450.57 116.39h0M450.27 114.44h0M449.97 112.44h0M449.68 110.45h0M449.41 108.46h0M449.19 106.46h0M449.01 104.47h0M448.9 102.48h0M448.82 100.48h0M448.75 98.49h0M448.68 96.5h0M448.63 94.5h0M448.59 92.46h0M448.56 90.47h0M448.55 88.48h0M448.56 86.48h0M448.59 84.49h0M448.63 82.45h0M448.68 80.46h0M448.75 78.46h0M448.82 76.47h0M448.9 74.48h0M449.01 72.48h0M449.19 70.49h0M449.42 68.5h0M449.68 66.5h0M449.97 64.51h0M450.28 62.52h0M450.57 60.57h0M450.88 58.58h0M451.21 56.58h0M451.56 54.63h0M451.95 52.69h0M452.4 50.69h0M452.88 48.79h0M453.5 46.89h0M454.27 45.03h0M455.09 43.22h0M455.09 133.78h0M455.91 131.88h0M456.72 130.02h0M457.52 128.17h0M458.32 126.31h0M459.14 124.41h0M459.98 122.55h0M460.82 120.74h0M461.7 118.88h0M462.55 117.02h0M463.36 115.16h0M464.12 113.26h0M464.79 111.36h0M465.4 109.41h0M465.97 107.46h0M466.51 105.51h0M467.02 103.52h0M467.47 101.57h0M467.88 99.58h0M468.24 97.54h0M468.56 95.55h0M468.87 93.55h0M469.13 91.51h0M469.29 89.47h0M469.29 87.48h0M469.13 85.44h0M468.87 83.4h0M468.55 81.41h0M468.23 79.42h0M467.88 77.38h0M467.46 75.38h0M467.01 73.44h0M466.5 71.44h0M465.96 69.49h0M465.38 67.55h0M464.78 65.6h0M464.11 63.69h0M463.34 61.79h0M462.53 59.93h0M461.67 58.08h0M460.8 56.22h0M459.96 54.41h0M459.12 52.55h0M458.3 50.65h0M457.5 48.79h0M456.7 46.93h0M455.9 45.07h0M455.09 43.22h0" stroke="#6446e2" stroke-width="1.45" stroke-linecap="round" stroke-opacity="0.85" fill="none"/>
<path d="M413.5 36.4V140.2" fill="none" stroke="#c4c4c4" stroke-width="0.8"/>
<path d="M413.5 140.2H544.3" fill="none" stroke="#c4c4c4" stroke-width="0.8"/>
<path d="M413.5 36.4H544.3" fill="none" stroke="#a0a0a0" stroke-width="0.8"/>
<path d="M544.3 36.4V140.2" fill="none" stroke="#a0a0a0" stroke-width="0.8"/>
<path d="M413.5 140.2v-1.0M413.5 36.4v1.0M422.22 140.2v-1.0M422.22 36.4v1.0M430.94 140.2v-1.0M430.94 36.4v1.0M439.66 140.2v-1.0M439.66 36.4v1.0M448.38 140.2v-1.0M448.38 36.4v1.0M457.1 140.2v-1.0M457.1 36.4v1.0M465.82 140.2v-1.0M465.82 36.4v1.0M474.54 140.2v-1.0M474.54 36.4v1.0M483.26 140.2v-1.0M483.26 36.4v1.0M491.98 140.2v-1.0M491.98 36.4v1.0M500.7 140.2v-1.0M500.7 36.4v1.0M509.42 140.2v-1.0M509.42 36.4v1.0M518.14 140.2v-1.0M518.14 36.4v1.0M526.86 140.2v-1.0M526.86 36.4v1.0M535.58 140.2v-1.0M535.58 36.4v1.0M544.3 140.2v-1.0M544.3 36.4v1.0M413.5 132.55h1.0M544.3 132.55h-1.0M413.5 123.74h1.0M544.3 123.74h-1.0M413.5 114.93h1.0M544.3 114.93h-1.0M413.5 106.12h1.0M544.3 106.12h-1.0M413.5 97.31h1.0M544.3 97.31h-1.0M413.5 88.5h1.0M544.3 88.5h-1.0M413.5 79.69h1.0M544.3 79.69h-1.0M413.5 70.88h1.0M544.3 70.88h-1.0M413.5 62.07h1.0M544.3 62.07h-1.0M413.5 53.26h1.0M544.3 53.26h-1.0M413.5 44.45h1.0M544.3 44.45h-1.0" stroke="#666" stroke-width="0.5" fill="none"/>
<g font-family='"Liberation Sans", sans-serif' font-size="5.3" fill="#3a3a3a"><text transform="translate(413.5 146.8) scale(0.78 1)" text-anchor="middle">0</text><text transform="translate(422.22 146.8) scale(0.78 1)" text-anchor="middle">10</text><text transform="translate(430.94 146.8) scale(0.78 1)" text-anchor="middle">20</text><text transform="translate(439.66 146.8) scale(0.78 1)" text-anchor="middle">30</text><text transform="translate(448.38 146.8) scale(0.78 1)" text-anchor="middle">40</text><text transform="translate(457.1 146.8) scale(0.78 1)" text-anchor="middle">50</text><text transform="translate(465.82 146.8) scale(0.78 1)" text-anchor="middle">60</text><text transform="translate(474.54 146.8) scale(0.78 1)" text-anchor="middle">70</text><text transform="translate(483.26 146.8) scale(0.78 1)" text-anchor="middle">80</text><text transform="translate(491.98 146.8) scale(0.78 1)" text-anchor="middle">90</text><text transform="translate(500.7 146.8) scale(0.78 1)" text-anchor="middle">100</text><text transform="translate(509.42 146.8) scale(0.78 1)" text-anchor="middle">110</text><text transform="translate(518.14 146.8) scale(0.78 1)" text-anchor="middle">120</text><text transform="translate(526.86 146.8) scale(0.78 1)" text-anchor="middle">130</text><text transform="translate(535.58 146.8) scale(0.78 1)" text-anchor="middle">140</text><text transform="translate(544.3 146.8) scale(0.78 1)" text-anchor="middle">150</text><text transform="translate(412 135) scale(0.78 1)" text-anchor="end">-50</text><text transform="translate(412 126.2) scale(0.78 1)" text-anchor="end">-40</text><text transform="translate(412 117.39) scale(0.78 1)" text-anchor="end">-30</text><text transform="translate(412 108.58) scale(0.78 1)" text-anchor="end">-20</text><text transform="translate(412 99.77) scale(0.78 1)" text-anchor="end">-10</text><text transform="translate(412 90.95) scale(0.78 1)" text-anchor="end">0</text><text transform="translate(412 82.14) scale(0.78 1)" text-anchor="end">10</text><text transform="translate(412 73.33) scale(0.78 1)" text-anchor="end">20</text><text transform="translate(412 64.52) scale(0.78 1)" text-anchor="end">30</text><text transform="translate(412 55.71) scale(0.78 1)" text-anchor="end">40</text><text transform="translate(412 46.91) scale(0.78 1)" text-anchor="end">50</text></g>
<text x="479" y="152.6" text-anchor="middle" font-family='"Liberation Sans", sans-serif' font-size="5.2" fill="#3a3a3a" textLength="41.7" lengthAdjust="spacingAndGlyphs">longitudial position,z</text>
<text transform="translate(403.9 89.5) rotate(-90)" text-anchor="middle" font-family='"Liberation Sans", sans-serif' font-size="5.2" fill="#3a3a3a" textLength="29.9" lengthAdjust="spacingAndGlyphs">radial position,x</text>
<path d="M27.27 198.4V305.4M36.34 198.4V305.4M45.41 198.4V305.4M54.48 198.4V305.4M63.55 198.4V305.4M72.62 198.4V305.4M81.69 198.4V305.4M90.76 198.4V305.4M99.83 198.4V305.4M108.9 198.4V305.4M117.97 198.4V305.4M127.04 198.4V305.4M136.11 198.4V305.4M145.18 198.4V305.4M18.2 297.6H154.25M18.2 288.55H154.25M18.2 279.5H154.25M18.2 270.45H154.25M18.2 261.4H154.25M18.2 252.35H154.25M18.2 243.3H154.25M18.2 234.25H154.25M18.2 225.2H154.25M18.2 216.15H154.25M18.2 207.1H154.25" stroke="#f3f3f3" stroke-width="0.5" fill="none"/>
<path d="M18.2 252.35L56.48 297.69M18.2 252.35L57.52 294.92M18.2 252.35L58.63 292.37M18.2 252.35L59.79 290M18.2 252.35L61 287.75M18.2 252.35L62.24 285.58M18.2 252.35L63.57 283.51M18.2 252.35L65.13 281.59M18.2 252.35L66.65 279.62M18.2 252.35L67.86 277.45M18.2 252.35L68.91 275.2M18.2 252.35L69.86 272.91M18.2 252.35L70.73 270.59M18.2 252.35L71.42 268.21M18.2 252.35L71.96 265.8M18.2 252.35L72.38 263.36M18.2 252.35L72.71 260.92M18.2 252.35L72.85 258.46M18.2 252.35L72.93 256.01M18.2 252.35L72.98 253.57M18.2 252.35L72.98 251.13M18.2 252.35L72.93 248.69M18.2 252.35L72.85 246.24M18.2 252.35L72.71 243.78M18.2 252.35L72.38 241.34M18.2 252.35L71.96 238.9M18.2 252.35L71.42 236.49M18.2 252.35L70.73 234.11M18.2 252.35L69.86 231.79M18.2 252.35L68.91 229.5M18.2 252.35L67.86 227.25M18.2 252.35L66.65 225.08M18.2 252.35L65.13 223.11M18.2 252.35L63.57 221.19M18.2 252.35L62.24 219.12M18.2 252.35L61 216.95M18.2 252.35L59.79 214.7M18.2 252.35L58.63 212.33M18.2 252.35L57.52 209.78M18.2 252.35L56.48 207.01" stroke="#ff0000" stroke-width="0.45" stroke-opacity="0.5" fill="none"/>
<path d="M56.48 297.69L61.19 300.5M57.52 294.92L63.07 299.63M58.63 292.37L65.36 298.54M59.79 290L68.03 297.23M61 287.75L70.97 295.71M62.24 285.58L73.93 293.97M63.57 283.51L77.07 292.04M65.13 281.59L80.34 289.92M66.65 279.62L83.46 287.61M67.86 277.45L86.21 285.14M68.91 275.2L88.62 282.51M69.86 272.91L90.67 279.74M70.73 270.59L92.5 276.84M71.42 268.21L94.15 273.81M71.96 265.8L95.67 270.69M72.38 263.36L96.92 267.48M72.71 260.92L97.9 264.19M72.85 258.46L98.51 260.85M72.93 256.01L98.82 257.46M72.98 253.57L98.99 254.06M72.98 251.13L98.99 250.64M72.93 248.69L98.82 247.24M72.85 246.24L98.51 243.85M72.71 243.78L97.9 240.51M72.38 241.34L96.92 237.22M71.96 238.9L95.67 234.01M71.42 236.49L94.15 230.89M70.73 234.11L92.5 227.86M69.86 231.79L90.67 224.96M68.91 229.5L88.62 222.19M67.86 227.25L86.21 219.56M66.65 225.08L83.46 217.09M65.13 223.11L80.34 214.78M63.57 221.19L77.07 212.66M62.24 219.12L73.93 210.73M61 216.95L70.97 208.99M59.79 214.7L68.03 207.47M58.63 212.33L65.36 206.16M57.52 209.78L63.07 205.07M56.48 207.01L61.19 204.2" stroke="#ff0000" stroke-width="0.45" stroke-opacity="0.5" fill="none"/>
<path d="M61.19 300.5L154.25 300.5M63.07 299.63L154.25 299.63M65.36 298.54L154.25 298.54M68.03 297.23L154.25 297.23M70.97 295.71L154.25 295.71M73.93 293.97L154.25 293.97M77.07 292.04L154.25 292.04M80.34 289.92L154.25 289.92M83.46 287.61L154.25 287.61M86.21 285.14L154.25 285.14M88.62 282.51L154.25 282.51M90.67 279.74L154.25 279.74M92.5 276.84L154.25 276.84M94.15 273.81L154.25 273.81M95.67 270.69L154.25 270.69M96.92 267.48L154.25 267.48M97.9 264.19L154.25 264.19M98.51 260.85L154.25 260.85M98.82 257.46L154.25 257.46M98.99 254.06L154.25 254.06M98.99 250.64L154.25 250.64M98.82 247.24L154.25 247.24M98.51 243.85L154.25 243.85M97.9 240.51L154.25 240.51M96.92 237.22L154.25 237.22M95.67 234.01L154.25 234.01M94.15 230.89L154.25 230.89M92.5 227.86L154.25 227.86M90.67 224.96L154.25 224.96M88.62 222.19L154.25 222.19M86.21 219.56L154.25 219.56M83.46 217.09L154.25 217.09M80.34 214.78L154.25 214.78M77.07 212.66L154.25 212.66M73.93 210.73L154.25 210.73M70.97 208.99L154.25 208.99M68.03 207.47L154.25 207.47M65.36 206.16L154.25 206.16M63.07 205.07L154.25 205.07M61.19 204.2L154.25 204.2" stroke="#ff0000" stroke-width="0.45" stroke-opacity="0.45" fill="none"/>
<defs><radialGradient id="g18_252" gradientUnits="userSpaceOnUse" cx="18.2" cy="252.35" r="8.5"><stop offset="0" stop-color="#ff0000" stop-opacity="1.0"/><stop offset="0.45" stop-color="#ff0000" stop-opacity="0.75"/><stop offset="1" stop-color="#ff0000" stop-opacity="0"/></radialGradient></defs>
<path d="M18.2 252.35L23.68 258.84L24.15 258.4L24.59 257.94L25 257.44L25.37 256.91L25.69 256.36L25.97 255.78L26.21 255.18L26.4 254.57L26.55 253.95L26.65 253.31L26.69 252.67L26.69 252.03L26.65 251.39L26.55 250.75L26.4 250.13L26.21 249.52L25.97 248.92L25.69 248.34L25.37 247.79L25 247.26L24.59 246.76L24.15 246.3L23.68 245.86Z" fill="url(#g18_252)"/>
<path d="M56.48 297.69h0M57.3 295.47h0M58.21 293.29h0M59.2 291.16h0M60.28 289.07h0M61.4 287.03h0M62.57 285.03h0M63.88 283.08h0M65.4 281.27h0M66.78 279.41h0M67.92 277.32h0M68.91 275.19h0M69.8 273.06h0M70.65 270.84h0M71.32 268.61h0M71.85 266.34h0M72.27 264.03h0M72.62 261.72h0M72.82 259.36h0M72.9 257h0M72.96 254.69h0M72.98 252.33h0M72.96 249.97h0M72.9 247.65h0M72.81 245.3h0M72.61 242.94h0M72.26 240.62h0M71.84 238.31h0M71.31 236.04h0M70.63 233.82h0M69.78 231.6h0M68.89 229.46h0M67.9 227.33h0M66.75 225.25h0M65.36 223.39h0M63.85 221.57h0M62.54 219.62h0M61.38 217.62h0M60.26 215.58h0M59.18 213.5h0M58.19 211.36h0M57.28 209.19h0M56.48 207.01h0M61.19 300.5h0M63.38 299.48h0M65.41 298.52h0M67.48 297.51h0M69.58 296.45h0M71.54 295.39h0M73.51 294.23h0M75.54 292.98h0M77.5 291.78h0M79.39 290.57h0M81.32 289.22h0M83.13 287.88h0M84.9 286.38h0M86.56 284.79h0M88.12 283.11h0M89.55 281.32h0M90.87 279.45h0M92.12 277.47h0M93.26 275.5h0M94.35 273.42h0M95.34 271.4h0M96.27 269.28h0M97.05 267.11h0M97.73 264.9h0M98.21 262.63h0M98.57 260.37h0M98.78 258.06h0M98.92 255.79h0M99 253.48h0M99 251.17h0M98.92 248.86h0M98.78 246.59h0M98.57 244.28h0M98.2 242.02h0M97.72 239.75h0M97.03 237.54h0M96.25 235.37h0M95.32 233.25h0M94.33 231.23h0M93.23 229.16h0M92.09 227.18h0M90.84 225.21h0M89.51 223.33h0M88.08 221.55h0M86.51 219.86h0M84.85 218.27h0M83.07 216.78h0M81.26 215.43h0M79.31 214.08h0M77.42 212.87h0M75.46 211.67h0M73.43 210.42h0M71.46 209.26h0M69.49 208.2h0M67.38 207.14h0M65.31 206.13h0M63.28 205.17h0M61.19 204.2h0" stroke="#6646e4" stroke-width="1.45" stroke-linecap="round" stroke-opacity="0.88" fill="none"/>
<path d="M18.2 198.4V305.4" fill="none" stroke="#c4c4c4" stroke-width="0.8"/>
<path d="M18.2 305.4H154.25" fill="none" stroke="#c4c4c4" stroke-width="0.8"/>
<path d="M18.2 198.4H154.25" fill="none" stroke="#a0a0a0" stroke-width="0.8"/>
<path d="M154.25 198.4V305.4" fill="none" stroke="#a0a0a0" stroke-width="0.8"/>
<path d="M18.2 305.4v-1.0M18.2 198.4v1.0M27.27 305.4v-1.0M27.27 198.4v1.0M36.34 305.4v-1.0M36.34 198.4v1.0M45.41 305.4v-1.0M45.41 198.4v1.0M54.48 305.4v-1.0M54.48 198.4v1.0M63.55 305.4v-1.0M63.55 198.4v1.0M72.62 305.4v-1.0M72.62 198.4v1.0M81.69 305.4v-1.0M81.69 198.4v1.0M90.76 305.4v-1.0M90.76 198.4v1.0M99.83 305.4v-1.0M99.83 198.4v1.0M108.9 305.4v-1.0M108.9 198.4v1.0M117.97 305.4v-1.0M117.97 198.4v1.0M127.04 305.4v-1.0M127.04 198.4v1.0M136.11 305.4v-1.0M136.11 198.4v1.0M145.18 305.4v-1.0M145.18 198.4v1.0M154.25 305.4v-1.0M154.25 198.4v1.0M18.2 297.6h1.0M154.25 297.6h-1.0M18.2 288.55h1.0M154.25 288.55h-1.0M18.2 279.5h1.0M154.25 279.5h-1.0M18.2 270.45h1.0M154.25 270.45h-1.0M18.2 261.4h1.0M154.25 261.4h-1.0M18.2 252.35h1.0M154.25 252.35h-1.0M18.2 243.3h1.0M154.25 243.3h-1.0M18.2 234.25h1.0M154.25 234.25h-1.0M18.2 225.2h1.0M154.25 225.2h-1.0M18.2 216.15h1.0M154.25 216.15h-1.0M18.2 207.1h1.0M154.25 207.1h-1.0" stroke="#666" stroke-width="0.5" fill="none"/>
<g font-family='"Liberation Serif", serif' font-size="5.0" fill="#000" stroke="#000" stroke-width="0.1"><text x="18.2" y="312.3" text-anchor="middle">0</text><text x="27.27" y="312.3" text-anchor="middle">10</text><text x="36.34" y="312.3" text-anchor="middle">20</text><text x="45.41" y="312.3" text-anchor="middle">30</text><text x="54.48" y="312.3" text-anchor="middle">40</text><text x="63.55" y="312.3" text-anchor="middle">50</text><text x="72.62" y="312.3" text-anchor="middle">60</text><text x="81.69" y="312.3" text-anchor="middle">70</text><text x="90.76" y="312.3" text-anchor="middle">80</text><text x="99.83" y="312.3" text-anchor="middle">90</text><text x="108.9" y="312.3" text-anchor="middle">100</text><text x="117.97" y="312.3" text-anchor="middle">110</text><text x="127.04" y="312.3" text-anchor="middle">120</text><text x="136.11" y="312.3" text-anchor="middle">130</text><text x="145.18" y="312.3" text-anchor="middle">140</text><text x="154.25" y="312.3" text-anchor="middle">150</text><text x="16.9" y="299.35" text-anchor="end">-50</text><text x="16.9" y="290.3" text-anchor="end">-40</text><text x="16.9" y="281.25" text-anchor="end">-30</text><text x="16.9" y="272.2" text-anchor="end">-20</text><text x="16.9" y="263.15" text-anchor="end">-10</text><text x="16.9" y="254.1" text-anchor="end">0</text><text x="16.9" y="245.05" text-anchor="end">10</text><text x="16.9" y="236" text-anchor="end">20</text><text x="16.9" y="226.95" text-anchor="end">30</text><text x="16.9" y="217.9" text-anchor="end">40</text><text x="16.9" y="208.85" text-anchor="end">50</text></g>
<text x="85.8" y="317.4" text-anchor="middle" font-family='"Liberation Serif", serif' font-size="5.2" fill="#000" stroke="#000" stroke-width="0.1" textLength="45.1" lengthAdjust="spacingAndGlyphs">longitudial position,z</text>
<text transform="translate(9.5 252.4) rotate(-90)" text-anchor="middle" font-family='"Liberation Serif", serif' font-size="5.2" fill="#000" stroke="#000" stroke-width="0.1" textLength="35.0" lengthAdjust="spacingAndGlyphs">radial position,x</text>
<path d="M225.17 200.4V302.2M233.84 200.4V302.2M242.51 200.4V302.2M251.18 200.4V302.2M259.85 200.4V302.2M268.52 200.4V302.2M277.19 200.4V302.2M285.86 200.4V302.2M294.53 200.4V302.2M303.2 200.4V302.2M311.87 200.4V302.2M320.54 200.4V302.2M329.21 200.4V302.2M337.88 200.4V302.2M216.5 294.5H346.55M216.5 285.89H346.55M216.5 277.28H346.55M216.5 268.67H346.55M216.5 260.06H346.55M216.5 251.45H346.55M216.5 242.84H346.55M216.5 234.23H346.55M216.5 225.62H346.55M216.5 217.01H346.55M216.5 208.4H346.55" stroke="#f3f3f3" stroke-width="0.5" fill="none"/>
<path d="M216.5 251.45L262.28 294.76M216.5 251.45L262.61 292.65M216.5 251.45L262.84 291.29M216.5 251.45L263.07 289.97M216.5 251.45L263.3 288.69M216.5 251.45L263.53 287.44M216.5 251.45L263.76 286.21M216.5 251.45L263.99 285M216.5 251.45L264.19 283.81M216.5 251.45L264.38 282.63M216.5 251.45L264.56 281.47M216.5 251.45L264.77 280.33M216.5 251.45L265 279.24M216.5 251.45L265.28 278.18M216.5 251.45L265.56 277.14M216.5 251.45L265.82 276.1M216.5 251.45L266.08 275.07M216.5 251.45L266.34 274.04M216.5 251.45L266.57 273.01M216.5 251.45L266.77 271.97M216.5 251.45L266.92 270.93M216.5 251.45L267.05 269.89M216.5 251.45L267.17 268.86M216.5 251.45L267.28 267.83M216.5 251.45L267.38 266.8M216.5 251.45L267.48 265.79M216.5 251.45L267.59 264.78M216.5 251.45L267.69 263.77M216.5 251.45L267.78 262.78M216.5 251.45L267.87 261.78M216.5 251.45L267.95 260.79M216.5 251.45L268 259.8M216.5 251.45L268.05 258.81M216.5 251.45L268.08 257.82M216.5 251.45L268.12 256.83M216.5 251.45L268.15 255.85M216.5 251.45L268.17 254.87M216.5 251.45L268.21 253.89M216.5 251.45L268.24 252.92M216.5 251.45L268.26 251.94M216.5 251.45L268.26 250.96M216.5 251.45L268.24 249.98M216.5 251.45L268.21 249.01M216.5 251.45L268.17 248.03M216.5 251.45L268.15 247.05M216.5 251.45L268.12 246.07M216.5 251.45L268.08 245.08M216.5 251.45L268.05 244.09M216.5 251.45L268 243.1M216.5 251.45L267.95 242.11M216.5 251.45L267.87 241.12M216.5 251.45L267.78 240.12M216.5 251.45L267.69 239.13M216.5 251.45L267.59 238.12M216.5 251.45L267.48 237.11M216.5 251.45L267.38 236.1M216.5 251.45L267.28 235.07M216.5 251.45L267.17 234.04M216.5 251.45L267.05 233.01M216.5 251.45L266.92 231.97M216.5 251.45L266.77 230.93M216.5 251.45L266.57 229.89M216.5 251.45L266.34 228.86M216.5 251.45L266.08 227.83M216.5 251.45L265.82 226.8M216.5 251.45L265.56 225.76M216.5 251.45L265.28 224.72M216.5 251.45L265 223.66M216.5 251.45L264.77 222.57M216.5 251.45L264.56 221.43M216.5 251.45L264.38 220.27M216.5 251.45L264.19 219.09M216.5 251.45L263.99 217.9M216.5 251.45L263.76 216.69M216.5 251.45L263.53 215.46M216.5 251.45L263.3 214.21M216.5 251.45L263.07 212.93M216.5 251.45L262.84 211.61M216.5 251.45L262.61 210.25M216.5 251.45L262.28 208.14" stroke="#ff0000" stroke-width="0.45" stroke-opacity="0.34" fill="none"/>
<path d="M262.28 294.76L264.97 296.39M262.61 292.65L266.58 295.03M262.84 291.29L267.66 294.1M263.07 289.97L268.8 293.15M263.3 288.69L269.95 292.19M263.53 287.44L270.97 291.22M263.76 286.21L271.81 290.23M263.99 285L272.56 289.23M264.19 283.81L273.24 288.21M264.38 282.63L273.9 287.18M264.56 281.47L274.59 286.14M264.77 280.33L275.35 285.08M265 279.24L276.24 284.01M265.28 278.18L277.21 282.93M265.56 277.14L278.13 281.84M265.82 276.1L278.9 280.74M266.08 275.07L279.61 279.63M266.34 274.04L280.26 278.5M266.57 273.01L280.87 277.37M266.77 271.97L281.43 276.23M266.92 270.93L281.93 275.08M267.05 269.89L282.42 273.92M267.17 268.86L282.92 272.75M267.28 267.83L283.48 271.57M267.38 266.8L284.12 270.39M267.48 265.79L284.74 269.2M267.59 264.78L285.29 268.01M267.69 263.77L285.83 266.8M267.78 262.78L286.32 265.6M267.87 261.78L286.7 264.38M267.95 260.79L286.98 263.17M268 259.8L287.23 261.94M268.05 258.81L287.44 260.72M268.08 257.82L287.62 259.49M268.12 256.83L287.78 258.26M268.15 255.85L287.93 257.02M268.17 254.87L288.08 255.79M268.21 253.89L288.21 254.55M268.24 252.92L288.31 253.31M268.26 251.94L288.37 252.07M268.26 250.96L288.37 250.83M268.24 249.98L288.31 249.59M268.21 249.01L288.21 248.35M268.17 248.03L288.08 247.11M268.15 247.05L287.93 245.88M268.12 246.07L287.78 244.64M268.08 245.08L287.62 243.41M268.05 244.09L287.44 242.18M268 243.1L287.23 240.96M267.95 242.11L286.98 239.73M267.87 241.12L286.7 238.52M267.78 240.12L286.32 237.3M267.69 239.13L285.83 236.1M267.59 238.12L285.29 234.89M267.48 237.11L284.74 233.7M267.38 236.1L284.12 232.51M267.28 235.07L283.48 231.33M267.17 234.04L282.92 230.15M267.05 233.01L282.42 228.98M266.92 231.97L281.93 227.82M266.77 230.93L281.43 226.67M266.57 229.89L280.87 225.53M266.34 228.86L280.26 224.4M266.08 227.83L279.61 223.27M265.82 226.8L278.9 222.16M265.56 225.76L278.13 221.06M265.28 224.72L277.21 219.97M265 223.66L276.24 218.89M264.77 222.57L275.35 217.82M264.56 221.43L274.59 216.76M264.38 220.27L273.9 215.72M264.19 219.09L273.24 214.69M263.99 217.9L272.56 213.67M263.76 216.69L271.81 212.67M263.53 215.46L270.97 211.68M263.3 214.21L269.95 210.71M263.07 212.93L268.8 209.75M262.84 211.61L267.66 208.8M262.61 210.25L266.58 207.87M262.28 208.14L264.97 206.51" stroke="#ff0000" stroke-width="0.45" stroke-opacity="0.45" fill="none"/>
<path d="M264.56 206.16H346.55M265.68 207.11H346.55M266.79 208.06H346.55M270.35 211.07H346.55M279.46 223.04H346.55M280.74 225.28H346.55M284.57 233.37H346.55M288.32 253.17H346.55M287.67 259.11H346.55M286.23 265.83H346.55M285.62 267.29H346.55M284.91 268.84H346.55M278.44 281.41H346.55M266.69 294.93H346.55M265.58 295.88H346.55M264.45 296.82H346.55" stroke="#ff0000" stroke-width="0.6" stroke-opacity="0.36" fill="none"/>
<path d="M267.8 208.92H346.55M274.82 217.1H346.55M275.66 218.22H346.55M276.64 219.33H346.55M281.8 227.51H346.55M283.43 231.22H346.55M285.65 235.69H346.55M286.53 237.93H346.55M287.58 243.1H346.55M288.35 250.24H346.55M288.03 256.19H346.55M287.2 262.13H346.55M280.27 278.49H346.55M271.04 291.14H346.55M267.8 293.98H346.55" stroke="#ff0000" stroke-width="0.6" stroke-opacity="0.26" fill="none"/>
<path d="M273.35 214.86H346.55M287.21 240.86H346.55M288.12 247.49H346.55M275.88 284.43H346.55M273.29 288.13H346.55" stroke="#ff0000" stroke-width="0.6" stroke-opacity="0.55" fill="none"/>
<defs><radialGradient id="g216_251" gradientUnits="userSpaceOnUse" cx="216.5" cy="251.45" r="8.5"><stop offset="0" stop-color="#ff0000" stop-opacity="1.0"/><stop offset="0.45" stop-color="#ff0000" stop-opacity="0.75"/><stop offset="1" stop-color="#ff0000" stop-opacity="0"/></radialGradient></defs>
<path d="M216.5 251.45L222.65 257.27L223.03 256.86L223.37 256.41L223.69 255.95L223.97 255.47L224.23 254.97L224.44 254.46L224.63 253.93L224.77 253.39L224.88 252.84L224.96 252.29L225 251.73L225 251.17L224.96 250.61L224.88 250.06L224.77 249.51L224.63 248.97L224.44 248.44L224.23 247.93L223.97 247.43L223.69 246.95L223.37 246.49L223.03 246.04L222.65 245.63Z" fill="url(#g216_251)"/>
<path d="M216.5 251.45H268.26" stroke="#ff0000" stroke-width="0.45" stroke-opacity="0.5" fill="none"/>
<path d="M262.28 294.76h0M262.66 292.38h0M263.06 289.99h0M263.49 287.65h0M263.94 285.27h0M264.34 282.89h0M264.73 280.55h0M265.27 278.21h0M265.88 275.87h0M266.46 273.53h0M266.89 271.19h0M267.18 268.8h0M267.42 266.42h0M267.66 264.04h0M267.89 261.61h0M268.03 259.23h0M268.12 256.84h0M268.19 254.42h0M268.26 252.03h0M268.23 249.61h0M268.15 247.23h0M268.08 244.84h0M267.97 242.42h0M267.78 240.03h0M267.54 237.65h0M267.3 235.27h0M267.04 232.88h0M266.69 230.5h0M266.17 228.16h0M265.58 225.82h0M264.96 223.48h0M264.52 221.14h0M264.13 218.76h0M263.71 216.42h0M263.27 214.03h0M262.85 211.69h0M262.46 209.31h0M264.97 296.39h0M266.82 294.82h0M268.69 293.25h0M270.47 291.72h0M272.06 289.92h0M273.44 287.9h0M274.74 285.92h0M276.23 284.03h0M277.82 282.23h0M279.22 280.25h0M280.44 278.18h0M281.52 276.02h0M282.46 273.82h0M283.46 271.62h0M284.59 269.5h0M285.59 267.35h0M286.49 265.1h0M287.07 262.76h0M287.49 260.38h0M287.81 257.99h0M288.1 255.61h0M288.31 253.23h0M288.37 250.84h0M288.21 248.41h0M287.95 246.03h0M287.65 243.65h0M287.29 241.27h0M286.8 238.93h0M286.06 236.63h0M285.08 234.43h0M283.99 232.27h0M282.93 230.16h0M281.97 227.91h0M280.99 225.75h0M279.82 223.64h0M278.53 221.61h0M277 219.73h0M275.43 217.93h0M274.05 215.95h0M272.73 213.93h0M271.29 212.04h0M269.56 210.37h0M267.71 208.84h0M265.87 207.27h0" stroke="#b01048" stroke-width="0.95" stroke-linecap="round" stroke-opacity="0.8" fill="none"/>
<path d="M262.47 293.55h0M262.86 291.16h0M263.27 288.82h0M263.72 286.44h0M264.14 284.1h0M264.52 281.72h0M264.97 279.38h0M265.59 277.04h0M266.18 274.7h0M266.7 272.36h0M267.04 269.97h0M267.31 267.59h0M267.54 265.21h0M267.78 262.82h0M267.97 260.44h0M268.08 258.01h0M268.15 255.63h0M268.23 253.25h0M268.26 250.82h0M268.19 248.44h0M268.12 246.01h0M268.03 243.63h0M267.88 241.25h0M267.66 238.82h0M267.42 236.44h0M267.17 234.05h0M266.88 231.67h0M266.45 229.33h0M265.87 226.99h0M265.26 224.65h0M264.72 222.31h0M264.33 219.97h0M263.93 217.59h0M263.48 215.2h0M263.06 212.86h0M262.65 210.48h0M262.28 208.14h0M265.92 295.58h0M267.77 294.01h0M269.61 292.48h0M271.33 290.82h0M272.76 288.93h0M274.08 286.91h0M275.47 284.93h0M277.04 283.13h0M278.56 281.24h0M279.85 279.22h0M281.01 277.1h0M281.99 274.95h0M282.95 272.7h0M284.01 270.58h0M285.1 268.42h0M286.08 266.22h0M286.81 263.93h0M287.29 261.59h0M287.66 259.21h0M287.95 256.82h0M288.22 254.44h0M288.37 252.01h0M288.31 249.63h0M288.09 247.25h0M287.8 244.86h0M287.49 242.48h0M287.06 240.1h0M286.48 237.76h0M285.57 235.51h0M284.56 233.35h0M283.44 231.24h0M282.44 229.03h0M281.5 226.83h0M280.41 224.67h0M279.19 222.6h0M277.78 220.63h0M276.19 218.83h0M274.71 216.94h0M273.41 214.96h0M272.02 212.94h0M270.42 211.14h0M268.64 209.61h0M266.77 208.03h0M264.97 206.51h0" stroke="#3018b8" stroke-width="0.95" stroke-linecap="round" stroke-opacity="0.8" fill="none"/>
<path d="M216.5 200.4V302.2" fill="none" stroke="#d0d0d0" stroke-width="0.8"/>
<path d="M216.5 302.2H346.55" fill="none" stroke="#9a9a9a" stroke-width="0.8"/>
<path d="M216.5 200.4H346.55" fill="none" stroke="#e6e6e6" stroke-width="0.8"/>
<path d="M346.55 200.4V302.2" fill="none" stroke="#d4d4d4" stroke-width="0.8"/>
<path d="M216.5 302.2v-1.0M216.5 200.4v1.0M225.17 302.2v-1.0M225.17 200.4v1.0M233.84 302.2v-1.0M233.84 200.4v1.0M242.51 302.2v-1.0M242.51 200.4v1.0M251.18 302.2v-1.0M251.18 200.4v1.0M259.85 302.2v-1.0M259.85 200.4v1.0M268.52 302.2v-1.0M268.52 200.4v1.0M277.19 302.2v-1.0M277.19 200.4v1.0M285.86 302.2v-1.0M285.86 200.4v1.0M294.53 302.2v-1.0M294.53 200.4v1.0M303.2 302.2v-1.0M303.2 200.4v1.0M311.87 302.2v-1.0M311.87 200.4v1.0M320.54 302.2v-1.0M320.54 200.4v1.0M329.21 302.2v-1.0M329.21 200.4v1.0M337.88 302.2v-1.0M337.88 200.4v1.0M346.55 302.2v-1.0M346.55 200.4v1.0M216.5 294.5h1.0M346.55 294.5h-1.0M216.5 285.89h1.0M346.55 285.89h-1.0M216.5 277.28h1.0M346.55 277.28h-1.0M216.5 268.67h1.0M346.55 268.67h-1.0M216.5 260.06h1.0M346.55 260.06h-1.0M216.5 251.45h1.0M346.55 251.45h-1.0M216.5 242.84h1.0M346.55 242.84h-1.0M216.5 234.23h1.0M346.55 234.23h-1.0M216.5 225.62h1.0M346.55 225.62h-1.0M216.5 217.01h1.0M346.55 217.01h-1.0M216.5 208.4h1.0M346.55 208.4h-1.0" stroke="#666" stroke-width="0.5" fill="none"/>
<g font-family='"Liberation Sans", sans-serif' font-size="5.3" fill="#3a3a3a"><text transform="translate(216.5 309) scale(0.78 1)" text-anchor="middle">0</text><text transform="translate(225.17 309) scale(0.78 1)" text-anchor="middle">10</text><text transform="translate(233.84 309) scale(0.78 1)" text-anchor="middle">20</text><text transform="translate(242.51 309) scale(0.78 1)" text-anchor="middle">30</text><text transform="translate(251.18 309) scale(0.78 1)" text-anchor="middle">40</text><text transform="translate(259.85 309) scale(0.78 1)" text-anchor="middle">50</text><text transform="translate(268.52 309) scale(0.78 1)" text-anchor="middle">60</text><text transform="translate(277.19 309) scale(0.78 1)" text-anchor="middle">70</text><text transform="translate(285.86 309) scale(0.78 1)" text-anchor="middle">80</text><text transform="translate(294.53 309) scale(0.78 1)" text-anchor="middle">90</text><text transform="translate(303.2 309) scale(0.78 1)" text-anchor="middle">100</text><text transform="translate(311.87 309) scale(0.78 1)" text-anchor="middle">110</text><text transform="translate(320.54 309) scale(0.78 1)" text-anchor="middle">120</text><text transform="translate(329.21 309) scale(0.78 1)" text-anchor="middle">130</text><text transform="translate(337.88 309) scale(0.78 1)" text-anchor="middle">140</text><text transform="translate(346.55 309) scale(0.78 1)" text-anchor="middle">150</text><text transform="translate(214.7 296.96) scale(0.78 1)" text-anchor="end">-50</text><text transform="translate(214.7 288.35) scale(0.78 1)" text-anchor="end">-40</text><text transform="translate(214.7 279.74) scale(0.78 1)" text-anchor="end">-30</text><text transform="translate(214.7 271.12) scale(0.78 1)" text-anchor="end">-20</text><text transform="translate(214.7 262.52) scale(0.78 1)" text-anchor="end">-10</text><text transform="translate(214.7 253.9) scale(0.78 1)" text-anchor="end">0</text><text transform="translate(214.7 245.29) scale(0.78 1)" text-anchor="end">10</text><text transform="translate(214.7 236.68) scale(0.78 1)" text-anchor="end">20</text><text transform="translate(214.7 228.07) scale(0.78 1)" text-anchor="end">30</text><text transform="translate(214.7 219.46) scale(0.78 1)" text-anchor="end">40</text><text transform="translate(214.7 210.85) scale(0.78 1)" text-anchor="end">50</text></g>
<text x="281.6" y="314.7" text-anchor="middle" font-family='"Liberation Sans", sans-serif' font-size="5.2" fill="#3a3a3a" textLength="38.3" lengthAdjust="spacingAndGlyphs">longitudial position,z</text>
<text transform="translate(207.8 251.7) rotate(-90)" text-anchor="middle" font-family='"Liberation Sans", sans-serif' font-size="5.2" fill="#3a3a3a" textLength="30.8" lengthAdjust="spacingAndGlyphs">radial position,x</text>
<path d="M425.91 199.7V298.9M434.32 199.7V298.9M442.73 199.7V298.9M451.14 199.7V298.9M459.55 199.7V298.9M467.96 199.7V298.9M476.37 199.7V298.9M484.78 199.7V298.9M493.19 199.7V298.9M501.6 199.7V298.9M510.01 199.7V298.9M518.42 199.7V298.9M526.83 199.7V298.9M535.24 199.7V298.9M417.5 291.6H543.65M417.5 283.17H543.65M417.5 274.74H543.65M417.5 266.31H543.65M417.5 257.88H543.65M417.5 249.45H543.65M417.5 241.02H543.65M417.5 232.59H543.65M417.5 224.16H543.65M417.5 215.73H543.65M417.5 207.3H543.65" stroke="#f3f3f3" stroke-width="0.5" fill="none"/>
<path d="M417.5 249.45L472.92 292.19M417.5 249.45L472.1 289.29M417.5 249.45L471.36 286.45M417.5 249.45L470.73 283.68M417.5 249.45L470.21 280.98M417.5 249.45L469.76 278.33M417.5 249.45L469.36 275.74M417.5 249.45L469.02 273.19M417.5 249.45L468.74 270.69M417.5 249.45L468.51 268.23M417.5 249.45L468.31 265.81M417.5 249.45L468.12 263.41M417.5 249.45L467.96 261.04M417.5 249.45L467.83 258.7M417.5 249.45L467.73 256.37M417.5 249.45L467.64 254.06M417.5 249.45L467.57 251.75M417.5 249.45L467.57 247.15M417.5 249.45L467.64 244.84M417.5 249.45L467.73 242.53M417.5 249.45L467.83 240.2M417.5 249.45L467.96 237.86M417.5 249.45L468.12 235.49M417.5 249.45L468.31 233.09M417.5 249.45L468.51 230.67M417.5 249.45L468.74 228.21M417.5 249.45L469.02 225.71M417.5 249.45L469.36 223.16M417.5 249.45L469.76 220.57M417.5 249.45L470.21 217.92M417.5 249.45L470.73 215.22M417.5 249.45L471.36 212.45M417.5 249.45L472.1 209.61M417.5 249.45L472.92 206.71" stroke="#ff0000" stroke-width="0.45" stroke-opacity="0.55" fill="none"/>
<path d="M472.92 292.19L472.92 292.19M472.1 289.29L474.4 289.29M471.36 286.45L475.71 286.45M470.73 283.68L476.79 283.68M470.21 280.98L477.76 280.98M469.76 278.33L478.63 278.33M469.36 275.74L479.42 275.74M469.02 273.19L480.11 273.19M468.74 270.69L480.71 270.69M468.51 268.23L481.26 268.23M468.31 265.81L481.75 265.81M468.12 263.41L482.2 263.41M467.96 261.04L482.6 261.04M467.83 258.7L482.95 258.7M467.73 256.37L483.27 256.37M467.64 254.06L483.59 254.06M467.57 251.75L483.84 251.75M467.57 247.15L483.84 247.15M467.64 244.84L483.59 244.84M467.73 242.53L483.27 242.53M467.83 240.2L482.95 240.2M467.96 237.86L482.6 237.86M468.12 235.49L482.2 235.49M468.31 233.09L481.75 233.09M468.51 230.67L481.26 230.67M468.74 228.21L480.71 228.21M469.02 225.71L480.11 225.71M469.36 223.16L479.42 223.16M469.76 220.57L478.63 220.57M470.21 217.92L477.76 217.92M470.73 215.22L476.79 215.22M471.36 212.45L475.71 212.45M472.1 209.61L474.4 209.61M472.92 206.71L472.92 206.71" stroke="#ff0000" stroke-width="0.45" stroke-opacity="0.55" fill="none"/>
<path d="M472.92 292.19L543.65 292.19M474.4 289.29L543.65 289.29M475.71 286.45L543.65 286.45M476.79 283.68L543.65 283.68M477.76 280.98L543.65 280.98M478.63 278.33L543.65 278.33M479.42 275.74L543.65 275.74M480.11 273.19L543.65 273.19M480.71 270.69L543.65 270.69M481.26 268.23L543.65 268.23M481.75 265.81L543.65 265.81M482.2 263.41L543.65 263.41M482.6 261.04L543.65 261.04M482.95 258.7L543.65 258.7M483.27 256.37L543.65 256.37M483.59 254.06L543.65 254.06M483.84 251.75L543.65 251.75M483.84 247.15L543.65 247.15M483.59 244.84L543.65 244.84M483.27 242.53L543.65 242.53M482.95 240.2L543.65 240.2M482.6 237.86L543.65 237.86M482.2 235.49L543.65 235.49M481.75 233.09L543.65 233.09M481.26 230.67L543.65 230.67M480.71 228.21L543.65 228.21M480.11 225.71L543.65 225.71M479.42 223.16L543.65 223.16M478.63 220.57L543.65 220.57M477.76 217.92L543.65 217.92M476.79 215.22L543.65 215.22M475.71 212.45L543.65 212.45M474.4 209.61L543.65 209.61M472.92 206.71L543.65 206.71" stroke="#ff0000" stroke-width="0.45" stroke-opacity="0.55" fill="none"/>
<defs><radialGradient id="g417_249" gradientUnits="userSpaceOnUse" cx="417.5" cy="249.45" r="8.5"><stop offset="0" stop-color="#ff0000" stop-opacity="1.0"/><stop offset="0.45" stop-color="#ff0000" stop-opacity="0.75"/><stop offset="1" stop-color="#ff0000" stop-opacity="0"/></radialGradient></defs>
<path d="M417.5 249.45L424.24 254.65L424.52 254.25L424.78 253.84L425.02 253.42L425.23 252.98L425.42 252.54L425.59 252.08L425.72 251.61L425.83 251.14L425.91 250.66L425.97 250.18L426 249.69L426 249.21L425.97 248.72L425.91 248.24L425.83 247.76L425.72 247.29L425.59 246.82L425.42 246.36L425.23 245.92L425.02 245.48L424.78 245.06L424.52 244.65L424.24 244.25Z" fill="url(#g417_249)"/>
<path d="M417.5 249.45H543.65" stroke="#ff0000" stroke-width="0.45" stroke-opacity="0.35" fill="none"/>
<path d="M472.92 292.19h0M472.36 290.22h0M471.83 288.3h0M471.33 286.33h0M470.88 284.41h0M470.48 282.44h0M470.11 280.43h0M469.78 278.46h0M469.48 276.5h0M469.19 274.49h0M468.94 272.48h0M468.72 270.51h0M468.53 268.5h0M468.36 266.49h0M468.2 264.48h0M468.06 262.47h0M467.93 260.46h0M467.82 258.45h0M467.73 256.44h0M467.66 254.43h0M467.59 252.42h0M467.55 250.45h0M467.55 248.4h0M467.59 246.44h0M467.66 244.43h0M467.73 242.42h0M467.82 240.41h0M467.93 238.4h0M468.06 236.39h0M468.2 234.38h0M468.36 232.37h0M468.54 230.36h0M468.72 228.35h0M468.94 226.38h0M469.2 224.37h0M469.48 222.36h0M469.79 220.39h0M470.12 218.43h0M470.49 216.42h0M470.89 214.45h0M471.34 212.53h0M471.84 210.56h0M472.37 208.63h0M472.92 206.71h0M472.92 292.19h0M473.85 290.39h0M474.75 288.56h0M475.59 286.72h0M476.36 284.84h0M477.06 282.95h0M477.73 281.07h0M478.37 279.15h0M478.98 277.22h0M479.55 275.26h0M480.07 273.33h0M480.56 271.37h0M481 269.4h0M481.42 267.43h0M481.83 265.42h0M482.2 263.45h0M482.54 261.44h0M482.84 259.48h0M483.12 257.47h0M483.4 255.46h0M483.66 253.45h0M483.86 251.44h0M483.94 249.43h0M483.86 247.42h0M483.66 245.41h0M483.39 243.4h0M483.11 241.39h0M482.84 239.38h0M482.53 237.41h0M482.19 235.4h0M481.82 233.44h0M481.42 231.43h0M480.99 229.46h0M480.55 227.49h0M480.06 225.52h0M479.54 223.6h0M478.96 221.63h0M478.36 219.71h0M477.71 217.79h0M477.04 215.9h0M476.34 214.02h0M475.57 212.14h0M474.73 210.3h0M473.83 208.46h0M472.92 206.71h0" stroke="#6446e2" stroke-width="1.45" stroke-linecap="round" stroke-opacity="0.85" fill="none"/>
<path d="M417.5 199.7V298.9" fill="none" stroke="#c4c4c4" stroke-width="0.8"/>
<path d="M417.5 298.9H543.65" fill="none" stroke="#c4c4c4" stroke-width="0.8"/>
<path d="M417.5 199.7H543.65" fill="none" stroke="#a0a0a0" stroke-width="0.8"/>
<path d="M543.65 199.7V298.9" fill="none" stroke="#a0a0a0" stroke-width="0.8"/>
<path d="M417.5 298.9v-1.0M417.5 199.7v1.0M425.91 298.9v-1.0M425.91 199.7v1.0M434.32 298.9v-1.0M434.32 199.7v1.0M442.73 298.9v-1.0M442.73 199.7v1.0M451.14 298.9v-1.0M451.14 199.7v1.0M459.55 298.9v-1.0M459.55 199.7v1.0M467.96 298.9v-1.0M467.96 199.7v1.0M476.37 298.9v-1.0M476.37 199.7v1.0M484.78 298.9v-1.0M484.78 199.7v1.0M493.19 298.9v-1.0M493.19 199.7v1.0M501.6 298.9v-1.0M501.6 199.7v1.0M510.01 298.9v-1.0M510.01 199.7v1.0M518.42 298.9v-1.0M518.42 199.7v1.0M526.83 298.9v-1.0M526.83 199.7v1.0M535.24 298.9v-1.0M535.24 199.7v1.0M543.65 298.9v-1.0M543.65 199.7v1.0M417.5 291.6h1.0M543.65 291.6h-1.0M417.5 283.17h1.0M543.65 283.17h-1.0M417.5 274.74h1.0M543.65 274.74h-1.0M417.5 266.31h1.0M543.65 266.31h-1.0M417.5 257.88h1.0M543.65 257.88h-1.0M417.5 249.45h1.0M543.65 249.45h-1.0M417.5 241.02h1.0M543.65 241.02h-1.0M417.5 232.59h1.0M543.65 232.59h-1.0M417.5 224.16h1.0M543.65 224.16h-1.0M417.5 215.73h1.0M543.65 215.73h-1.0M417.5 207.3h1.0M543.65 207.3h-1.0" stroke="#666" stroke-width="0.5" fill="none"/>
<g font-family='"Liberation Sans", sans-serif' font-size="5.3" fill="#3a3a3a"><text transform="translate(417.5 305.2) scale(0.78 1)" text-anchor="middle">0</text><text transform="translate(425.91 305.2) scale(0.78 1)" text-anchor="middle">10</text><text transform="translate(434.32 305.2) scale(0.78 1)" text-anchor="middle">20</text><text transform="translate(442.73 305.2) scale(0.78 1)" text-anchor="middle">30</text><text transform="translate(451.14 305.2) scale(0.78 1)" text-anchor="middle">40</text><text transform="translate(459.55 305.2) scale(0.78 1)" text-anchor="middle">50</text><text transform="translate(467.96 305.2) scale(0.78 1)" text-anchor="middle">60</text><text transform="translate(476.37 305.2) scale(0.78 1)" text-anchor="middle">70</text><text transform="translate(484.78 305.2) scale(0.78 1)" text-anchor="middle">80</text><text transform="translate(493.19 305.2) scale(0.78 1)" text-anchor="middle">90</text><text transform="translate(501.6 305.2) scale(0.78 1)" text-anchor="middle">100</text><text transform="translate(510.01 305.2) scale(0.78 1)" text-anchor="middle">110</text><text transform="translate(518.42 305.2) scale(0.78 1)" text-anchor="middle">120</text><text transform="translate(526.83 305.2) scale(0.78 1)" text-anchor="middle">130</text><text transform="translate(535.24 305.2) scale(0.78 1)" text-anchor="middle">140</text><text transform="translate(543.65 305.2) scale(0.78 1)" text-anchor="middle">150</text><text transform="translate(415.9 293.56) scale(0.78 1)" text-anchor="end">-50</text><text transform="translate(415.9 285.12) scale(0.78 1)" text-anchor="end">-40</text><text transform="translate(415.9 276.7) scale(0.78 1)" text-anchor="end">-30</text><text transform="translate(415.9 268.27) scale(0.78 1)" text-anchor="end">-20</text><text transform="translate(415.9 259.84) scale(0.78 1)" text-anchor="end">-10</text><text transform="translate(415.9 251.4) scale(0.78 1)" text-anchor="end">0</text><text transform="translate(415.9 242.97) scale(0.78 1)" text-anchor="end">10</text><text transform="translate(415.9 234.54) scale(0.78 1)" text-anchor="end">20</text><text transform="translate(415.9 226.11) scale(0.78 1)" text-anchor="end">30</text><text transform="translate(415.9 217.68) scale(0.78 1)" text-anchor="end">40</text><text transform="translate(415.9 209.25) scale(0.78 1)" text-anchor="end">50</text></g>
<text x="480.6" y="311.4" text-anchor="middle" font-family='"Liberation Sans", sans-serif' font-size="5.2" fill="#3a3a3a" textLength="40.4" lengthAdjust="spacingAndGlyphs">longitudial position,z</text>
<text transform="translate(407.3 249.8) rotate(-90)" text-anchor="middle" font-family='"Liberation Sans", sans-serif' font-size="5.2" fill="#3a3a3a" textLength="30.3" lengthAdjust="spacingAndGlyphs">radial position,x</text>
<text x="237" y="177.6" font-family='"Liberation Serif", serif' font-size="12.2" fill="#111" textLength="78.3" lengthAdjust="spacingAndGlyphs"><tspan font-weight="bold">(a)</tspan> F = 40 mm</text>
<text x="236.4" y="343.3" font-family='"Liberation Serif", serif' font-size="12.2" fill="#111" textLength="79.2" lengthAdjust="spacingAndGlyphs"><tspan font-weight="bold">(b)</tspan> F = 60 mm</text>
</svg></body></html>
